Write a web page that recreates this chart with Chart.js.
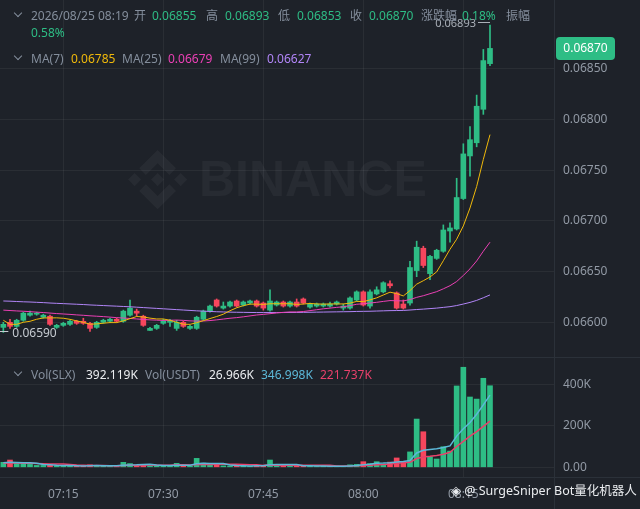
<!DOCTYPE html>
<html><head><meta charset="utf-8">
<script src="https://cdn.jsdelivr.net/npm/chart.js@4.4.1/dist/chart.umd.min.js"></script>
<style>
html,body{margin:0;padding:0;background:#1e2229;width:640px;height:509px;overflow:hidden;font-family:"Noto Sans","Noto Sans CJK SC",sans-serif;}
#wrap{position:relative;width:640px;height:509px;}
.box{position:absolute;left:0;width:640px;z-index:2;}
#pbox{top:0;height:357px;}
#vbox{top:358px;height:151px;}
.t{position:absolute;font-size:12px;white-space:nowrap;line-height:14px;z-index:3;}
.g{color:#848e9c;}
.up{color:#2ebd85;}
.chev{position:absolute;width:5px;height:5px;border-right:1.3px solid #848e9c;border-bottom:1.3px solid #848e9c;transform:rotate(45deg);z-index:3;}
.hl{position:absolute;background:#2b3139;z-index:1;}
#wm{position:absolute;left:0;top:0;z-index:1;}
#wmtext{position:absolute;left:199px;top:154px;font:bold 50px "Liberation Sans",sans-serif;line-height:50px;color:rgba(255,255,255,0.045);z-index:1;}
#brand{position:absolute;left:451px;top:483px;font-size:12.5px;line-height:16px;color:#eaecef;z-index:4;white-space:nowrap;}
</style></head>
<body><div id="wrap">
<svg id="wm" width="640" height="360"><g transform="translate(128,150) scale(0.47)" fill="rgba(255,255,255,0.045)">
<polygon points="63,0 102,39 88,53 63,28 38,53 24,39"/>
<polygon points="63,126 24,87 38,73 63,98 88,73 102,87"/>
<polygon points="0,63 14,49 28,63 14,77"/>
<polygon points="98,63 112,49 126,63 112,77"/>
<polygon points="49,63 63,49 77,63 63,77"/></g></svg>
<div id="wmtext">BINANCE</div>
<div class="hl" style="left:0;top:357px;width:640px;height:1px"></div>
<div class="hl" style="left:0;top:477px;width:640px;height:1px"></div>
<div class="hl" style="left:554px;top:0;width:1px;height:509px"></div>
<div class="box" id="pbox"><canvas id="pc"></canvas></div>
<div class="box" id="vbox"><canvas id="vc"></canvas></div>

<div class="chev" style="left:15px;top:10px"></div>
<span class="t g" style="left:31px;top:9px">2026/08/25 08:19</span>
<span class="t g" style="left:134px;top:9px">开</span><span class="t up" style="left:152px;top:9px">0.06855</span>
<span class="t g" style="left:206px;top:9px">高</span><span class="t up" style="left:225px;top:9px">0.06893</span>
<span class="t g" style="left:278px;top:9px">低</span><span class="t up" style="left:297px;top:9px">0.06853</span>
<span class="t g" style="left:350px;top:9px">收</span><span class="t up" style="left:369px;top:9px">0.06870</span>
<span class="t g" style="left:421px;top:9px">涨跌幅</span><span class="t up" style="left:462px;top:9px">0.18%</span>
<span class="t g" style="left:506px;top:9px">振幅</span>
<span class="t up" style="left:31px;top:26px">0.58%</span>

<div class="chev" style="left:15px;top:53px"></div>
<span class="t g" style="left:31px;top:52px">MA(7)</span><span class="t" style="left:71px;top:52px;color:#f0b90b">0.06785</span>
<span class="t g" style="left:122px;top:52px">MA(25)</span><span class="t" style="left:168px;top:52px;color:#eb40b5">0.06679</span>
<span class="t g" style="left:220px;top:52px">MA(99)</span><span class="t" style="left:267px;top:52px;color:#b185f7">0.06627</span>

<div class="chev" style="left:15px;top:369px"></div>
<span class="t g" style="left:31px;top:368px">Vol(SLX)</span><span class="t" style="left:86px;top:368px;color:#eaecef">392.119K</span>
<span class="t g" style="left:145px;top:368px">Vol(USDT)</span><span class="t" style="left:209px;top:368px;color:#eaecef">26.966K</span>
<span class="t" style="left:261px;top:368px;color:#5cb8d8">346.998K</span>
<span class="t" style="left:320px;top:368px;color:#e8416b">221.737K</span>

<div id="brand">◈ @ SurgeSniper Bot量化机器人</div>
</div>
<script>
// ---------- data ----------
const times = ['07:06','07:07','07:08','07:09','07:10','07:11','07:12','07:13','07:14','07:15',
'07:16','07:17','07:18','07:19','07:20','07:21','07:22','07:23','07:24','07:25',
'07:26','07:27','07:28','07:29','07:30','07:31','07:32','07:33','07:34','07:35',
'07:36','07:37','07:38','07:39','07:40','07:41','07:42','07:43','07:44','07:45',
'07:46','07:47','07:48','07:49','07:50','07:51','07:52','07:53','07:54','07:55',
'07:56','07:57','07:58','07:59','08:00','08:01','08:02','08:03','08:04','08:05',
'08:06','08:07','08:08','08:09','08:10','08:11','08:12','08:13','08:14','08:15',
'08:16','08:17','08:18','08:19'];
const opens = [0.06595,0.06600,0.06596,0.06602,0.06607,0.06608,0.06605,0.06606,0.06595,0.06597,
0.06598,0.06601,0.06601,0.06599,0.06595,0.06600,0.06601,0.06603,0.06601,0.06607,
0.06611,0.06606,0.06592,0.06594,0.06599,0.06600,0.06594,0.06600,0.06594,0.06594,
0.06603,0.06611,0.06622,0.06614,0.06616,0.06621,0.06617,0.06619,0.06621,0.06619,
0.06612,0.06617,0.06620,0.06616,0.06620,0.06623,0.06615,0.06616,0.06616,0.06616,
0.06618,0.06614,0.06614,0.06622,0.06630,0.06616,0.06628,0.06630,0.06638,0.06629,
0.06618,0.06619,0.06651,0.06673,0.06648,0.06663,0.06670,0.06690,0.06692,0.06722,
0.06764,0.06777,0.06810,0.06855];
const highs = [0.06600,0.06603,0.06603,0.06610,0.06611,0.06610,0.06608,0.06607,0.06598,0.06600,
0.06602,0.06602,0.06604,0.06600,0.06601,0.06603,0.06604,0.06604,0.06612,0.06622,
0.06613,0.06607,0.06595,0.06598,0.06603,0.06603,0.06602,0.06601,0.06597,0.06606,
0.06612,0.06617,0.06623,0.06620,0.06621,0.06622,0.06621,0.06622,0.06622,0.06620,
0.06632,0.06621,0.06621,0.06621,0.06623,0.06624,0.06619,0.06619,0.06619,0.06620,
0.06621,0.06618,0.06625,0.06631,0.06631,0.06632,0.06635,0.06640,0.06641,0.06630,
0.06622,0.06660,0.06680,0.06675,0.06666,0.06672,0.06696,0.06698,0.06742,0.06776,
0.06793,0.06824,0.06869,0.06893];
const lows = [0.06590,0.06594,0.06595,0.06601,0.06606,0.06607,0.06604,0.06597,0.06594,0.06596,
0.06597,0.06598,0.06598,0.06591,0.06594,0.06599,0.06600,0.06600,0.06600,0.06606,
0.06606,0.06596,0.06592,0.06593,0.06598,0.06596,0.06592,0.06595,0.06593,0.06593,
0.06602,0.06610,0.06615,0.06613,0.06615,0.06615,0.06616,0.06618,0.06615,0.06612,
0.06611,0.06616,0.06615,0.06615,0.06615,0.06618,0.06614,0.06615,0.06615,0.06615,
0.06617,0.06612,0.06613,0.06621,0.06616,0.06614,0.06627,0.06629,0.06634,0.06613,
0.06613,0.06617,0.06645,0.06654,0.06642,0.06662,0.06669,0.06679,0.06691,0.06721,
0.06744,0.06773,0.06805,0.06853];
const closes = [0.06598,0.06596,0.06602,0.06609,0.06609,0.06609,0.06607,0.06598,0.06597,0.06599,
0.06601,0.06599,0.06599,0.06594,0.06600,0.06602,0.06603,0.06601,0.06611,0.06614,
0.06609,0.06597,0.06594,0.06597,0.06601,0.06602,0.06600,0.06596,0.06596,0.06605,
0.06611,0.06616,0.06616,0.06616,0.06620,0.06616,0.06620,0.06621,0.06616,0.06614,
0.06621,0.06620,0.06616,0.06620,0.06616,0.06619,0.06618,0.06618,0.06618,0.06618,
0.06620,0.06616,0.06624,0.06630,0.06617,0.06630,0.06632,0.06639,0.06636,0.06614,
0.06614,0.06654,0.06674,0.06656,0.06665,0.06671,0.06691,0.06693,0.06723,0.06766,
0.06780,0.06813,0.06858,0.06870];
const ma7 = [0.066020,0.065980,0.065980,0.066000,0.066010,0.066030,0.066043,0.066043,0.066044,0.066040,
0.066029,0.066014,0.066000,0.065981,0.065984,0.065991,0.065997,0.065997,0.066014,0.066036,
0.066057,0.066053,0.066041,0.066033,0.066033,0.066020,0.066000,0.065981,0.065980,0.065996,
0.066016,0.066037,0.066057,0.066080,0.066114,0.066143,0.066164,0.066179,0.066179,0.066176,
0.066183,0.066183,0.066183,0.066183,0.066176,0.066180,0.066186,0.066181,0.066179,0.066181,
0.066181,0.066181,0.066189,0.066206,0.066204,0.066221,0.066241,0.066269,0.066297,0.066283,
0.066260,0.066313,0.066376,0.066410,0.066447,0.066497,0.066607,0.066720,0.066819,0.066950,
0.067127,0.067339,0.067606,0.067850];
const ma25 = [0.066120,0.066116,0.066112,0.066109,0.066105,0.066100,0.066096,0.066091,0.066086,0.066082,
0.066078,0.066073,0.066069,0.066064,0.066060,0.066056,0.066051,0.066046,0.066042,0.066038,
0.066033,0.066028,0.066024,0.066021,0.066018,0.066020,0.066022,0.066019,0.066014,0.066012,
0.066013,0.066017,0.066024,0.066032,0.066040,0.066046,0.066054,0.066063,0.066072,0.066078,
0.066085,0.066092,0.066098,0.066102,0.066102,0.066106,0.066115,0.066124,0.066133,0.066140,
0.066147,0.066153,0.066164,0.066178,0.066183,0.066190,0.066197,0.066206,0.066214,0.066212,
0.066211,0.066224,0.066246,0.066262,0.066282,0.066302,0.066330,0.066361,0.066402,0.066462,
0.066527,0.066605,0.066701,0.066790];
const ma99 = [0.066210,0.066208,0.066205,0.066202,0.066200,0.066197,0.066194,0.066190,0.066187,0.066184,
0.066181,0.066178,0.066175,0.066171,0.066168,0.066165,0.066162,0.066159,0.066156,0.066153,
0.066149,0.066145,0.066141,0.066137,0.066133,0.066129,0.066125,0.066121,0.066117,0.066113,
0.066110,0.066107,0.066104,0.066102,0.066100,0.066099,0.066098,0.066097,0.066096,0.066096,
0.066096,0.066096,0.066096,0.066097,0.066097,0.066098,0.066099,0.066100,0.066101,0.066102,
0.066103,0.066104,0.066105,0.066107,0.066108,0.066109,0.066111,0.066113,0.066115,0.066116,
0.066117,0.066121,0.066126,0.066130,0.066135,0.066140,0.066147,0.066154,0.066165,0.066180,
0.066196,0.066216,0.066242,0.066270];
const volumes = [24,35,19,19,14,9,9,12,7,6,
7,5,9,12,8,6,5,4,24,18,
9,14,7,8,6,8,19,10,6,43,
20,12,10,7,6,9,7,5,8,9,
35,8,7,6,10,8,5,4,6,5,
6,4,12,14,27,18,27,15,25,45,
29,74,232,171,51,40,99,78,391,481,
338,328,428,392.119];
const volMaA = [22,24,23,22,22.2,19.2,14,12.6,10.2,8.6,
8.2,7.4,6.8,7.8,8.2,8,8,7,9.4,11.4,
12,13.8,14.4,11.2,8.8,8.6,9.6,10.2,9.8,17.2,
19.6,18.2,18.2,18.4,11,8.8,7.8,6.8,7,7.6,
12.8,13,13.4,13,13.2,7.8,7.2,6.6,6.6,5.6,
5.2,5,6.6,8.2,12.6,15,19.6,20.2,22.4,26,
28.2,33,69,82,86,89,95,103,150,185,
215,255,300,346.998];
const volMaB = [20,21,21,20,19,18,17,16,16,15.4,
13.7,10.7,9.7,9.0,8.4,8.1,7.7,6.9,8.6,9.8,
10,10.9,10.7,10.3,10.1,10.3,11.7,12.3,10.5,13,
14.1,13.9,14.2,14.1,14.1,14.2,13,12.5,12.7,9.3,
10.8,10.4,10.1,10,10.4,10.3,10.1,10,9.8,9.4,
6.5,6.1,6.6,7.4,9.1,10.1,12.3,13.4,15.3,19.3,
21.6,24,42,50,53,57,63,72,100,125,
150,172,197,221.737];
const priceTicks = [0.06600,0.06650,0.06700,0.06750,0.06800,0.06850];
const volTicks = [0,200,400];
const volTickLabels = ['0.00','200K','400K'];
const timeTickLabels = ['07:15','07:30','07:45','08:00','08:15'];

// ---------- setup ----------
function toMin(t){const p=t.split(':').map(Number);return (p[0]-7)*60+p[1];}
const xs = times.map(toMin);
const tickMins = timeTickLabels.map(toMin);
const GREEN='#2ebd85', RED='#f6465d';
const colors = closes.map((c,i)=>c>=opens[i]?GREEN:RED);
const GRID='rgba(255,255,255,0.055)', AXC='#929aa5';
const X_MIN=5.5, X_MAX=88.6;
const P_MIN=0.0656579, P_MAX=0.0691773;
Chart.defaults.font.family='"Noto Sans","Noto Sans CJK SC",sans-serif';
Chart.defaults.font.size=12;
function fitY(s){s.width=86; s.paddingTop=0; s.paddingBottom=0;}

const markers = {
  id:'markers',
  afterDraw(chart){
    const {ctx, scales:{x,y}} = chart;
    ctx.save();
    let hi=0, lo=0;
    highs.forEach((v,i)=>{if(v>highs[hi])hi=i;});
    lows.forEach((v,i)=>{if(v<lows[lo])lo=i;});
    const hx=x.getPixelForValue(xs[hi]), hy=y.getPixelForValue(highs[hi]);
    ctx.strokeStyle='#aab0b8'; ctx.lineWidth=1;
    ctx.beginPath(); ctx.moveTo(hx-12,Math.round(hy)-2.5); ctx.lineTo(hx,Math.round(hy)-2.5); ctx.stroke();
    ctx.fillStyle='#aab0b8'; ctx.font='11px "Noto Sans"'; ctx.textAlign='right'; ctx.textBaseline='middle';
    ctx.fillText(highs[hi].toFixed(5), hx-14, hy-1);
    const lx=x.getPixelForValue(xs[lo]), ly=y.getPixelForValue(lows[lo]);
    ctx.strokeStyle='#c5cad0';
    ctx.beginPath(); ctx.moveTo(lx-4,Math.round(ly)-0.5); ctx.lineTo(lx+5,Math.round(ly)-0.5); ctx.stroke();
    ctx.fillStyle='#c5cad0'; ctx.font='12px "Noto Sans"'; ctx.textAlign='left';
    ctx.fillText(lows[lo].toFixed(5), lx+9, ly+1);
    const last=closes[closes.length-1];
    const ty=y.getPixelForValue(last);
    const rx=556, rw=59, rh=23, ry=ty-rh/2;
    ctx.fillStyle=GREEN;
    ctx.beginPath(); ctx.roundRect(rx,ry,rw,rh,4); ctx.fill();
    ctx.fillStyle='#ffffff'; ctx.textAlign='center'; ctx.font='12px "Noto Sans"';
    ctx.fillText(last.toFixed(5), rx+rw/2, ty+0.5);
    ctx.restore();
  }
};

new Chart(document.getElementById('pc'), {
  type:'bar',
  data:{datasets:[
    {type:'line', data:xs.map((x,i)=>({x,y:ma7[i]})), borderColor:'#f0b90b', borderWidth:1, pointRadius:0, order:0},
    {type:'line', data:xs.map((x,i)=>({x,y:ma25[i]})), borderColor:'#eb40b5', borderWidth:1, pointRadius:0, order:0},
    {type:'line', data:xs.map((x,i)=>({x,y:ma99[i]})), borderColor:'#b185f7', borderWidth:1, pointRadius:0, order:0},
    {type:'bar', data:xs.map((x,i)=>({x,y:[opens[i],closes[i]]})), backgroundColor:colors, barThickness:5, minBarLength:1, grouped:false, order:1},
    {type:'bar', data:xs.map((x,i)=>({x,y:[lows[i],highs[i]]})), backgroundColor:colors, barThickness:1, grouped:false, order:2}
  ]},
  options:{
    responsive:true, maintainAspectRatio:false, animation:false, layout:{padding:0,autoPadding:false},
    plugins:{legend:{display:false}, tooltip:{enabled:false}},
    scales:{
      x:{type:'linear', min:X_MIN, max:X_MAX, offset:false,
         ticks:{display:false}, grid:{color:GRID, drawTicks:false, offset:false}, border:{display:false},
         afterBuildTicks(s){s.ticks=tickMins.map(v=>({value:v}));}, afterFit(s){s.height=0;}},
      y:{position:'right', min:P_MIN, max:P_MAX,
         grid:{color:GRID, drawTicks:false}, border:{display:false},
         ticks:{color:AXC, padding:9, callback:v=>Number(v).toFixed(5)},
         afterBuildTicks(s){s.ticks=priceTicks.map(v=>({value:v}));}, afterFit:fitY}
    }
  },
  plugins:[markers]
});

new Chart(document.getElementById('vc'), {
  type:'bar',
  data:{datasets:[
    {type:'line', data:xs.map((x,i)=>({x,y:volMaA[i]})), borderColor:'#5cb8d8', borderWidth:1.5, pointRadius:0, order:0},
    {type:'line', data:xs.map((x,i)=>({x,y:volMaB[i]})), borderColor:'#e8416b', borderWidth:1.5, pointRadius:0, order:0},
    {type:'bar', data:xs.map((x,i)=>({x,y:volumes[i]})), backgroundColor:colors, barThickness:5, grouped:false, order:1}
  ]},
  options:{
    responsive:true, maintainAspectRatio:false, animation:false, layout:{padding:0,autoPadding:false},
    plugins:{legend:{display:false}, tooltip:{enabled:false}},
    scales:{
      x:{type:'linear', min:X_MIN, max:X_MAX, offset:false,
         grid:{color:GRID, drawTicks:false, offset:false}, border:{display:false},
         ticks:{color:AXC, padding:10, maxRotation:0, autoSkip:false,
           callback:v=>{const k=tickMins.indexOf(Math.round(v));return k>=0?timeTickLabels[k]:'';}},
         afterBuildTicks(s){s.ticks=tickMins.map(v=>({value:v}));}, afterFit(s){s.height=32;}},
      y:{position:'right', min:-46.6, max:525.5,
         grid:{color:GRID, drawTicks:false}, border:{display:false},
         ticks:{color:AXC, padding:9, callback:v=>{const k=volTicks.indexOf(Math.round(v));return k>=0?volTickLabels[k]:'';}},
         afterBuildTicks(s){s.ticks=volTicks.map(v=>({value:v}));}, afterFit:fitY}
    }
  }
});
</script>
</body></html>
